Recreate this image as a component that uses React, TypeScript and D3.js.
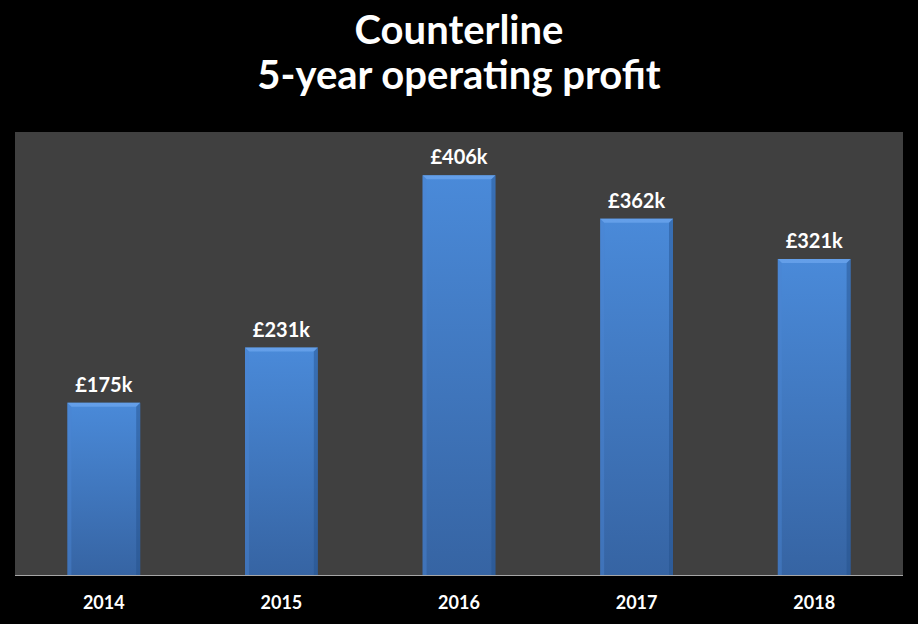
import * as d3 from "d3";

const years = ["2014", "2015", "2016", "2017", "2018"];
const profits = [175, 231, 406, 362, 321];
const titleLines = ["Counterline", "5-year operating profit"];

const width = 918;
const height = 624;
const plot = { left: 15, right: 903, top: 132, bottom: 575 };
const bevel = 4;

const App = () => {
  const x = d3
    .scaleBand()
    .domain(years)
    .range([plot.left, plot.right])
    .paddingInner(0.59)
    .paddingOuter(0.295);

  const y = d3.scaleLinear().domain([0, 450]).range([plot.bottom, plot.top]);

  const font = "Lato, 'Open Sans', sans-serif";

  return (
    <svg
      width={width}
      height={height}
      viewBox={`0 0 ${width} ${height}`}
      style={{ position: "absolute", left: 0, top: 0 }}
    >
      <defs>
        <linearGradient id="barFill" x1="0" y1="0" x2="0" y2="1">
          <stop offset="0%" stopColor="#4a8ad9" />
          <stop offset="100%" stopColor="#3664a3" />
        </linearGradient>
      </defs>
      <rect width={width} height={height} fill="#000" />

      {/* title */}
      {titleLines.map((t, i) => (
        <text
          key={t}
          x={459}
          y={44 + i * 45}
          textAnchor="middle"
          fill="#fff"
          fontFamily={font}
          fontWeight="bold"
          fontSize={40}
        >
          {t}
        </text>
      ))}

      {/* plot background */}
      <rect
        x={plot.left}
        y={plot.top}
        width={plot.right - plot.left}
        height={plot.bottom - plot.top}
        fill="#404040"
      />

      {/* bars */}
      {profits.map((v, i) => {
        const x0 = x(years[i]) ?? 0;
        const w = x.bandwidth();
        const x1 = x0 + w;
        const top = y(v);
        const bottom = y(0);
        return (
          <g key={years[i]}>
            <rect x={x0} y={top} width={w} height={bottom - top} fill="url(#barFill)" />
            {/* top bevel */}
            <path
              d={`M${x0},${top}L${x1},${top}L${x1 - bevel},${top + bevel}L${x0 + bevel},${top + bevel}Z`}
              fill="#6aa4ec"
              opacity={0.8}
            />
            {/* left bevel */}
            <path
              d={`M${x0},${top}L${x0 + bevel},${top + bevel}L${x0 + bevel},${bottom}L${x0},${bottom}Z`}
              fill="#4b86d2"
              opacity={0.45}
            />
            {/* right bevel */}
            <path
              d={`M${x1},${top}L${x1 - bevel},${top + bevel}L${x1 - bevel},${bottom}L${x1},${bottom}Z`}
              fill="#234f8a"
              opacity={0.45}
            />
            <text
              x={x0 + w / 2}
              y={top - 11}
              textAnchor="middle"
              fill="#fff"
              fontFamily={font}
              fontWeight="bold"
              fontSize={20}
            >
              £{v}k
            </text>
          </g>
        );
      })}

      {/* axis line */}
      <line
        x1={plot.left}
        x2={plot.right}
        y1={plot.bottom + 0.5}
        y2={plot.bottom + 0.5}
        stroke="#a6a6a6"
        strokeWidth={1}
      />

      {/* category labels */}
      {years.map((yr) => (
        <text
          key={yr}
          x={(x(yr) ?? 0) + x.bandwidth() / 2}
          y={609}
          textAnchor="middle"
          fill="#fff"
          fontFamily={font}
          fontWeight="bold"
          fontSize={18}
        >
          {yr}
        </text>
      ))}
    </svg>
  );
};

export default App;
